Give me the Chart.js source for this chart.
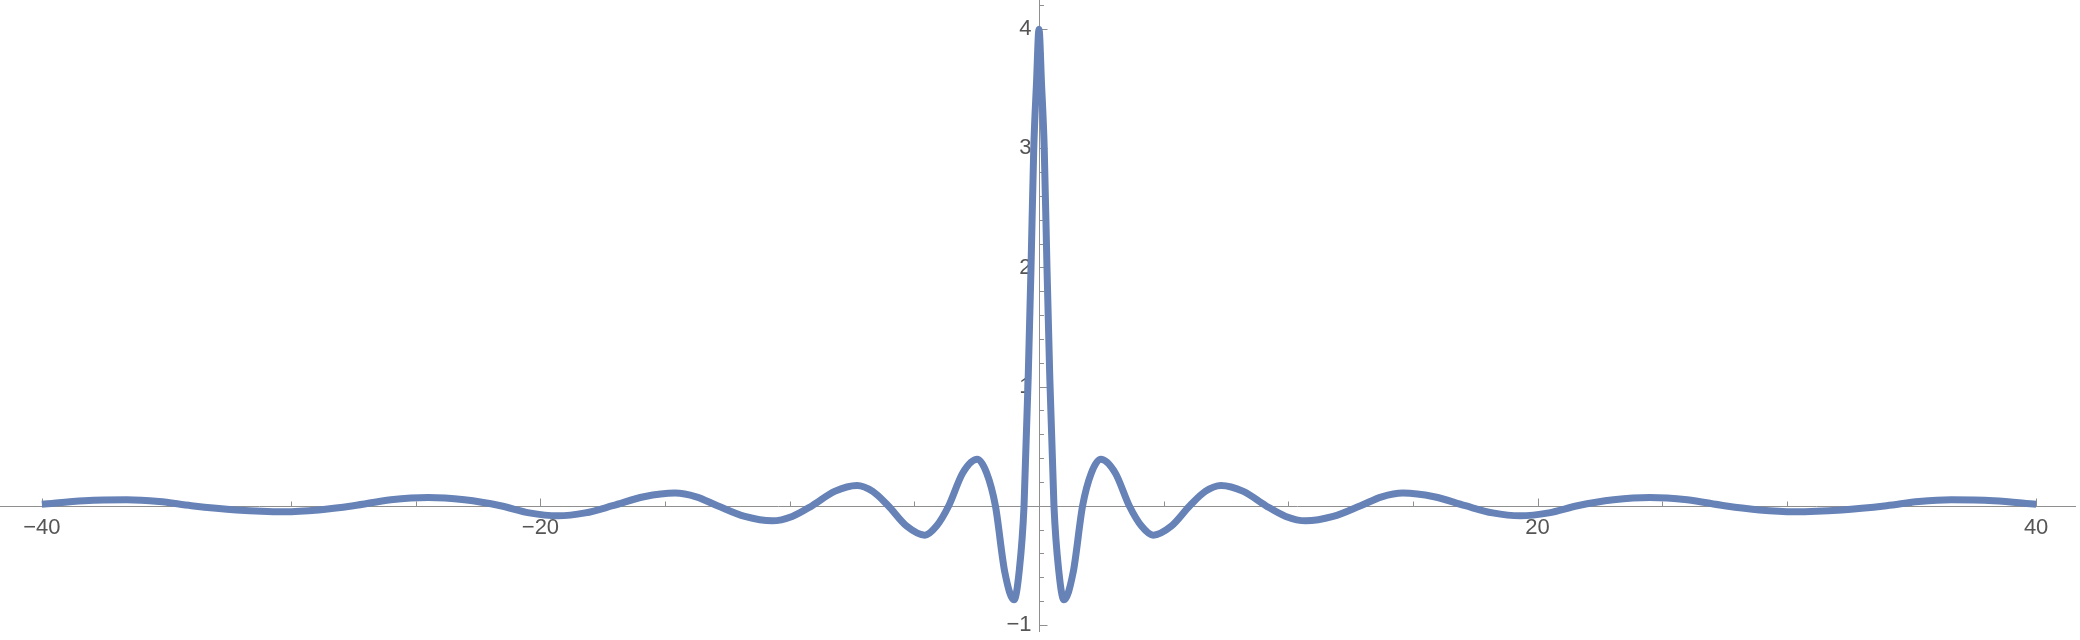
<!DOCTYPE html>
<html>
<head>
<meta charset="utf-8">
<script src="https://cdn.jsdelivr.net/npm/chart.js@4.4.1/dist/chart.umd.min.js"></script>
<style>
  html, body { margin: 0; padding: 0; background: #fff; }
  #plot { display: block; }
</style>
</head>
<body>
<canvas id="plot" width="2080" height="640"></canvas>
<script>
// values: extrema, zero crossings, half-way points, main lobe
var xValues = [-40, -38.3, -36.6, -35.3, -34.0, -32.2, -30.3, -28.9, -27.5, -26.0,
               -24.5, -23.05, -21.6, -20.45, -19.3, -18.2, -17.1, -15.85, -14.6, -13.75,
               -12.9, -11.8, -10.7, -9.9, -9.1, -8.2, -7.3, -6.67, -6.05, -5.3,
               -4.58, -4.12, -3.62, -3.06, -2.48, -2.1, -1.75, -1.37, -1.0, -0.8,
               -0.6, -0.43, -0.32, -0.21, -0.1, 0,
               0.1, 0.21, 0.32, 0.43, 0.6,
               0.8, 1.0, 1.37, 1.75, 2.1, 2.48, 3.06, 3.62, 4.12, 4.58,
               5.3, 6.05, 6.67, 7.3, 8.2, 9.1, 9.9, 10.7, 11.8, 12.9,
               13.75, 14.6, 15.85, 17.1, 18.2, 19.3, 20.45, 21.6, 23.05, 24.5,
               26.0, 27.5, 28.9, 30.3, 32.2, 34.0, 35.3, 36.6, 38.3, 40];
var yValues = [0.012, 0.042, 0.05, 0.035, 0, -0.035, -0.05, -0.035, 0, 0.05,
               0.07, 0.05, 0, -0.06, -0.085, -0.06, 0, 0.075, 0.106, 0.075,
               0, -0.09, -0.127, -0.09, 0, 0.12, 0.17, 0.12, 0, -0.173,
               -0.247, -0.173, 0, 0.275, 0.39, 0.275, 0, -0.56, -0.79, -0.56,
               0, 1.1, 2.0, 3.0, 3.55, 4,
               3.55, 3.0, 2.0, 1.1, 0,
               -0.56, -0.79, -0.56, 0, 0.275, 0.39, 0.275, 0, -0.173, -0.247,
               -0.173, 0, 0.12, 0.17, 0.12, 0, -0.09, -0.127, -0.09, 0,
               0.075, 0.106, 0.075, 0, -0.06, -0.085, -0.06, 0, 0.05, 0.07,
               0.05, 0, -0.035, -0.05, -0.035, 0, 0.035, 0.05, 0.042, 0.012];

var xMajorTicks = [-40, -20, 20, 40];
var xTickLabels = ['\u221240', '\u221220', '20', '40'];
var xMinorTicks = [-35, -30, -25, -15, -10, -5, 5, 10, 15, 25, 30, 35];
var yMajorTicks = [-1, 1, 2, 3, 4];
var yTickLabels = ['\u22121', '1', '2', '3', '4'];
var yMinorTicks = [-0.8, -0.6, -0.4, -0.2, 0.2, 0.4, 0.6, 0.8, 1.2, 1.4, 1.6, 1.8,
                   2.2, 2.4, 2.6, 2.8, 3.2, 3.4, 3.6, 3.8, 4.2];

var points = [];
for (var i = 0; i < xValues.length; i++) {
    points.push({x: xValues[i], y: yValues[i]});
}

var axisColor = '#8f8f8f';
var labelColor = '#555555';
var labelFont = '22px "Liberation Sans Narrow", "Liberation Sans", Arial, sans-serif';

// Mathematica-style axes crossing at the origin
var originAxes = {
    id: 'originAxes',
    beforeDatasetsDraw: function(chart) {
        var ctx = chart.ctx;
        var xs = chart.scales.x;
        var ys = chart.scales.y;
        var x0 = Math.round(xs.getPixelForValue(0)) + 0.5;
        var y0 = Math.round(ys.getPixelForValue(0)) + 0.5;
        ctx.save();
        ctx.strokeStyle = axisColor;
        ctx.lineWidth = 1;
        ctx.beginPath();
        ctx.moveTo(0, y0);
        ctx.lineTo(xs.right, y0);
        ctx.moveTo(x0, 0);
        ctx.lineTo(x0, ys.bottom);
        ctx.stroke();

        ctx.beginPath();
        xMajorTicks.forEach(function(v) {
            var px = Math.round(xs.getPixelForValue(v)) + 0.5;
            ctx.moveTo(px, y0);
            ctx.lineTo(px, y0 - 8);
        });
        xMinorTicks.forEach(function(v) {
            var px = Math.round(xs.getPixelForValue(v)) + 0.5;
            ctx.moveTo(px, y0);
            ctx.lineTo(px, y0 - 5);
        });
        yMajorTicks.forEach(function(v) {
            var py = Math.round(ys.getPixelForValue(v)) + 0.5;
            ctx.moveTo(x0, py);
            ctx.lineTo(x0 + 8, py);
        });
        yMinorTicks.forEach(function(v) {
            var py = Math.round(ys.getPixelForValue(v)) + 0.5;
            ctx.moveTo(x0, py);
            ctx.lineTo(x0 + 4.5, py);
        });
        ctx.stroke();

        ctx.fillStyle = labelColor;
        ctx.font = labelFont;
        ctx.textAlign = 'center';
        ctx.textBaseline = 'top';
        xMajorTicks.forEach(function(v, k) {
            ctx.fillText(xTickLabels[k], xs.getPixelForValue(v), y0 + 10);
        });
        ctx.textAlign = 'right';
        ctx.textBaseline = 'middle';
        yMajorTicks.forEach(function(v, k) {
            ctx.fillText(yTickLabels[k], x0 - 8, ys.getPixelForValue(v));
        });
        ctx.restore();
    }
};

var chart = new Chart(document.getElementById('plot'), {
    type: 'line',
    data: {
        datasets: [{
            data: points,
            borderColor: '#6682b6',
            borderWidth: 7,
            pointRadius: 0,
            fill: false,
            cubicInterpolationMode: 'monotone'
        }]
    },
    options: {
        responsive: false,
        animation: false,
        layout: { padding: { left: 0, right: 4, top: 0, bottom: 8 } },
        plugins: {
            legend: { display: false },
            tooltip: { enabled: false }
        },
        scales: {
            x: { type: 'linear', min: -41.68, max: 41.6, display: false },
            y: { type: 'linear', min: -1.06, max: 4.245, display: false }
        }
    },
    plugins: [originAxes]
});
</script>
</body>
</html>
